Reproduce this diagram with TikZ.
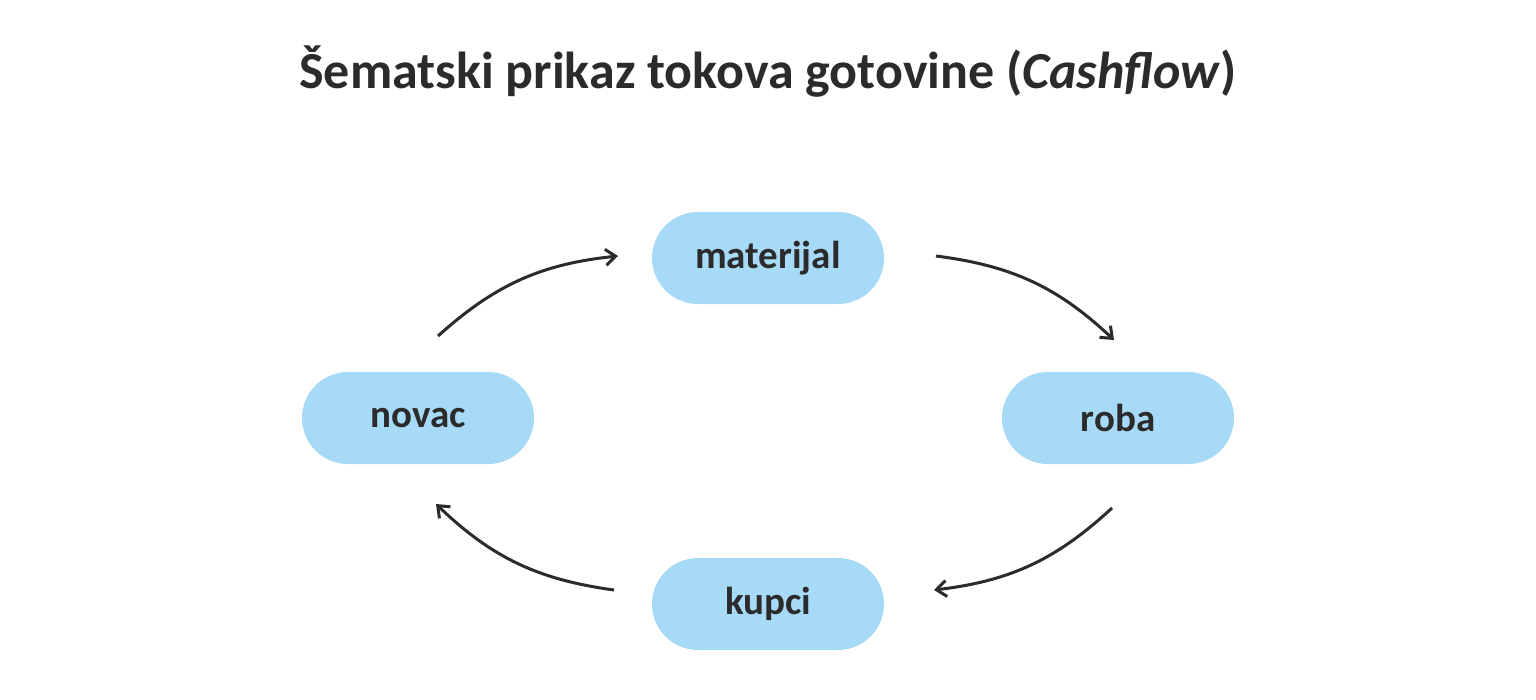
\documentclass[tikz,border=0pt]{standalone}
\usepackage{fontspec}
\setmainfont{Carlito}
\usetikzlibrary{arrows.meta}
\definecolor{boxc}{HTML}{A6DAF7}
\definecolor{txt}{HTML}{2B2B2B}
\begin{document}
\begin{tikzpicture}[x=1pt,y=-1pt,
  pill/.style={fill=boxc,draw=none,rounded corners=46pt,minimum width=232pt,minimum height=92pt,text=txt,font=\fontsize{39}{44}\selectfont\bfseries},
  flow/.style={draw=txt,line width=3pt,-{Straight Barb[length=10pt,width=16pt,line width=3pt]}}]
\useasboundingbox (0,0) rectangle (1536,699);
\node[text=txt,font=\fontsize{52}{60}\selectfont\bfseries] (title) at (768,72) {Šematski prikaz tokova gotovine (\textit{Cashflow})};
\node[pill] (mat) at (768,258) {materijal};
\node[pill] (nov) at (418,418) {novac};
\node[pill] (rob) at (1118,418) {roba};
\node[pill] (kup) at (768,604) {kupci};
\coordinate (a1) at (438,336); \coordinate (a2) at (618,256);
\coordinate (b1) at (936,256); \coordinate (b2) at (1114,340);
\coordinate (c1) at (1112,508); \coordinate (c2) at (934,590);
\coordinate (d1) at (614,590); \coordinate (d2) at (436,504);
\draw[flow] (a1) to[bend left=18] (a2);
\draw[flow] (b1) to[bend left=18] (b2);
\draw[flow] (c1) to[bend left=18] (c2);
\draw[flow] (d1) to[bend left=18] (d2);
\end{tikzpicture}
\end{document}
